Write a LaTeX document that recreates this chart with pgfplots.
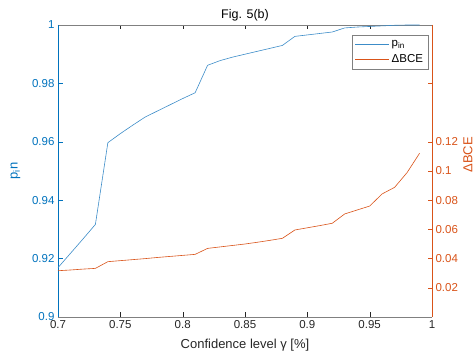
\documentclass[border=0pt]{standalone}
\usepackage{fontspec}
\setmainfont{Liberation Sans}
\usepackage{pgfplots}
\pgfplotsset{compat=1.18}
\definecolor{mblue}{RGB}{0,114,189}
\definecolor{mlblue}{RGB}{60,140,200}
\definecolor{morange}{RGB}{217,83,25}
\definecolor{mgray}{RGB}{38,38,38}
\definecolor{mlgray}{RGB}{128,128,128}
\begin{document}
\begin{tikzpicture}
\pgfplotsset{
  every axis title shift=0pt,
  every axis/.append style={
    scale only axis, width=374pt, height=292pt,
    at={(0pt,0pt)}, anchor=south west,
    xmin=0.7, xmax=1,
    tick align=inside, major tick length=4.5pt,
    /pgf/number format/assume math mode=true,
    tick label style={font=\fontsize{11.5}{13}\selectfont},
    label style={font=\fontsize{13}{15}\selectfont},
  }
}
\begin{axis}[
  ymin=0.9, ymax=1,
  ytick={0.9,0.92,0.94,0.96,0.98,1},
  yticklabels={0.9,0.92,0.94,0.96,0.98,1},
  xtick={0.7,0.75,0.8,0.85,0.9,0.95,1},
  xticklabels={0.7,0.75,0.8,0.85,0.9,0.95,1},
  separate axis lines,
  x axis line style={mlgray, line width=0.5pt},
  y axis line style={mblue, line width=0.5pt},
  xtick pos=both, ytick pos=left,
  xtick style={mgray}, ytick style={mblue},
  xticklabel style={text=mgray},
  yticklabel style={text=mblue},
  xlabel={Confidence level γ [\%]},
  xlabel style={at={(axis description cs:0.5,-0.098)}, anchor=center, text=mgray},
  ylabel={p\textsubscript{i}n},
  ylabel style={at={(axis description cs:-0.114,0.5)}, anchor=center, rotate=0, text=mblue},
  title={Fig. 5(b)},
  title style={at={(axis description cs:0.5,1.034)}, anchor=center, font=\fontsize{12.5}{14}\selectfont, text=black},
]
\addplot[mlblue, line width=0.6pt] coordinates {
(0.70,0.9169) (0.71,0.9218) (0.72,0.9267) (0.73,0.9317) (0.74,0.9597)
(0.75,0.9628) (0.76,0.9657) (0.77,0.9685) (0.78,0.9706) (0.79,0.9727)
(0.80,0.9748) (0.81,0.9768) (0.82,0.9862) (0.83,0.9878) (0.84,0.9890)
(0.85,0.9900) (0.86,0.9910) (0.87,0.9920) (0.88,0.9930) (0.89,0.9961)
(0.90,0.9966) (0.91,0.9971) (0.92,0.9976) (0.93,0.9990) (0.94,0.9993)
(0.95,0.9995) (0.96,0.9997) (0.97,0.9999) (0.98,1.0000) (0.99,1.0000)
};
\end{axis}
\begin{axis}[
  ymin=0, ymax=0.2,
  ytick={0.02,0.04,0.06,0.08,0.1,0.12,0.16},
  yticklabels={0.02,0.04,0.06,0.08,0.1,0.12,{}},
  axis x line=none,
  axis y line*=right,
  y axis line style={morange, line width=0.5pt, -},
  ytick style={morange},
  yticklabel style={text=morange},
  ylabel={ΔBCE},
  ylabel style={at={(axis description cs:1.096,0.555)}, anchor=center, rotate=0, text=morange},
  legend style={at={(axis description cs:0.99,0.966)}, anchor=north east,
    draw=mlgray, font=\fontsize{11.5}{13}\selectfont, inner xsep=3pt, inner ysep=3pt,
    row sep=3pt, cells={anchor=west}},
  legend image code/.code={\draw[#1] (0pt,0pt) -- (34pt,0pt);},
]
\addlegendimage{mlblue, line width=0.6pt}
\addlegendentry{p\textsubscript{in}}
\addplot[morange, line width=0.6pt] coordinates {
(0.70,0.0317) (0.71,0.0322) (0.72,0.0328) (0.73,0.0333) (0.74,0.0379)
(0.75,0.0386) (0.76,0.0393) (0.77,0.0400) (0.78,0.0408) (0.79,0.0415)
(0.80,0.0422) (0.81,0.0429) (0.82,0.0470) (0.83,0.0480) (0.84,0.0490)
(0.85,0.0500) (0.86,0.0512) (0.87,0.0525) (0.88,0.0539) (0.89,0.0596)
(0.90,0.0611) (0.91,0.0626) (0.92,0.0642) (0.93,0.0706) (0.94,0.0733)
(0.95,0.0760) (0.96,0.0843) (0.97,0.0888) (0.98,0.0989) (0.99,0.1121)
};
\addlegendentry{ΔBCE}
\end{axis}
\pgfresetboundingbox
\path[use as bounding box] (-58pt,-39pt) rectangle (416pt,317pt);
\end{tikzpicture}
\end{document}
